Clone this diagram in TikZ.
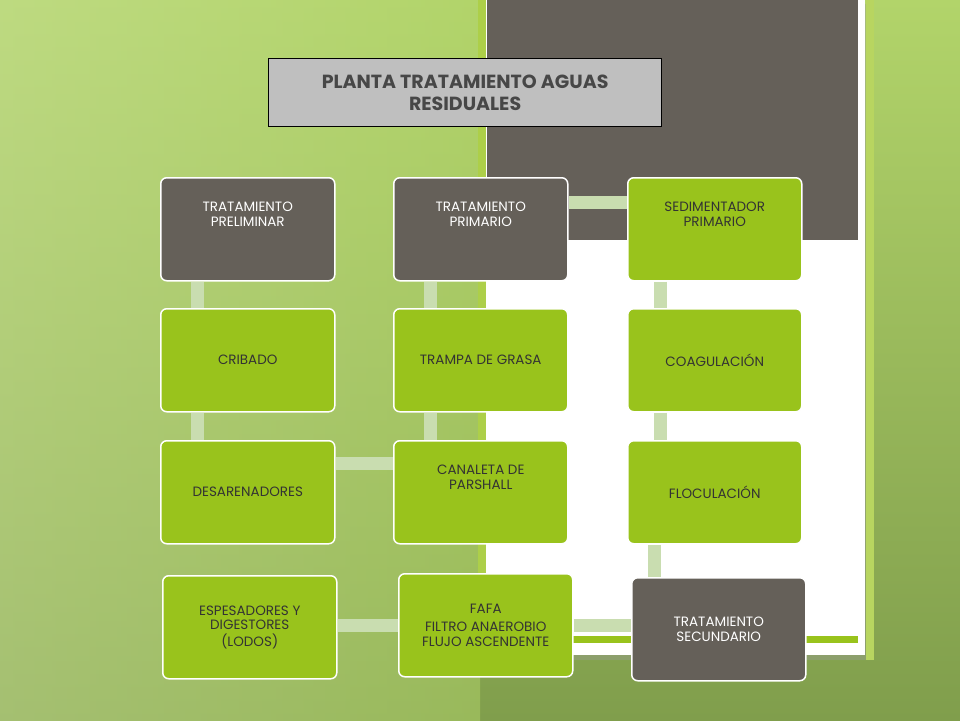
\documentclass[tikz,border=0pt]{standalone}
\usepackage{fontspec}
\setmainfont{Poppins}
\usetikzlibrary{backgrounds}
\begin{document}
\begin{tikzpicture}[x=1pt,y=-1pt,
  box/.style={rounded corners=6pt,draw=white,line width=1.5pt,minimum width=174pt,minimum height=103pt,align=center,font=\fontsize{13.5}{14.5}\selectfont,text=black!80,anchor=north west},
  gbox/.style={box,fill=gcol},
  dbox/.style={box,fill=dgray,text=white!95},
  link/.style={draw=linkc,line width=13pt}]
\definecolor{gcol}{HTML}{99C31C}
\definecolor{dgray}{HTML}{656059}
\definecolor{linkc}{HTML}{C9DDB0}
\definecolor{bgtop}{HTML}{B2D46A}
\definecolor{bgbot}{HTML}{809E4C}
\useasboundingbox (0,0) rectangle (960,720);
% title
\node[draw=black,line width=1.2pt,fill=black!25,minimum width=393pt,minimum height=68pt,anchor=north west,align=center,text=black!72,font=\bfseries\fontsize{19}{22}\selectfont,rounded corners=0pt] (title) at (268,58) {PLANTA TRATAMIENTO AGUAS\\RESIDUALES};
% nodes
\node[dbox] (tp) at (160,177) {TRATAMIENTO\\PRELIMINAR\\[16pt]};
\node[dbox] (tpr) at (393,177) {TRATAMIENTO\\PRIMARIO\\[16pt]};
\node[gbox] (sed) at (627,177) {SEDIMENTADOR\\PRIMARIO\\[16pt]};
\node[gbox] (cri) at (160,308) {CRIBADO};
\node[gbox] (tra) at (393,308) {TRAMPA DE GRASA};
\node[gbox] (coa) at (627,308) {COAGULACIÓN};
\node[gbox] (des) at (160,440) {DESARENADORES};
\node[gbox] (can) at (393,440) {CANALETA DE\\PARSHALL\\[16pt]};
\node[gbox] (flo) at (627,440) {FLOCULACIÓN};
\node[gbox] (esp) at (162,575) {ESPESADORES Y\\DIGESTORES\\[2pt](LODOS)};
\node[gbox] (fafa) at (398,573) {FAFA\\[4pt]FILTRO ANAEROBIO\\FLUJO ASCENDENTE};
\node[dbox] (ts) at (631,577) {TRATAMIENTO\\SECUNDARIO};
\begin{scope}[on background layer]
\shade[top color=bgtop,bottom color=bgbot] (0,0) rectangle (960,720);
\shade[left color=white!30!bgtop,right color=bgtop,opacity=0.5] (0,0) rectangle (480,720);
\fill[black!40,opacity=0.4] (482,4) rectangle (870,660);
\fill[white] (478,0) rectangle (865,655);
\fill[gcol!80] (478,0) rectangle (486,655);
\fill[gcol!70] (866,0) rectangle (874,660);
\fill[dgray] (487,0) rectangle (858,240);
\fill[gcol] (570,636) rectangle (858,643);
\path[link] ([xshift=37pt]tp.south west) -- ([xshift=37pt]cri.north west);
\path[link] ([xshift=37pt]cri.south west) -- ([xshift=37pt]des.north west);
\path[link] ([xshift=37pt]tpr.south west) -- ([xshift=37pt]tra.north west);
\path[link] ([xshift=37pt]tra.south west) -- ([xshift=37pt]can.north west);
\path[link] ([xshift=33pt]sed.south west) -- ([xshift=33pt]coa.north west);
\path[link] ([xshift=33pt]coa.south west) -- ([xshift=33pt]flo.north west);
\path[link] ([xshift=27pt]flo.south west) -- ([xshift=23pt]ts.north west);
\path[link] ([yshift=-25pt]tpr.north east) -- ([yshift=-25pt]sed.north west);
\path[link] ([yshift=-23pt]des.north east) -- ([yshift=-23pt]can.north west);
\path[link] ([yshift=-50pt]esp.north east) -- ([yshift=-52pt]fafa.north west);
\path[link] ([yshift=-52pt]fafa.north east) -- ([yshift=-48pt]ts.north west);
\end{scope}
\end{tikzpicture}
\end{document}
